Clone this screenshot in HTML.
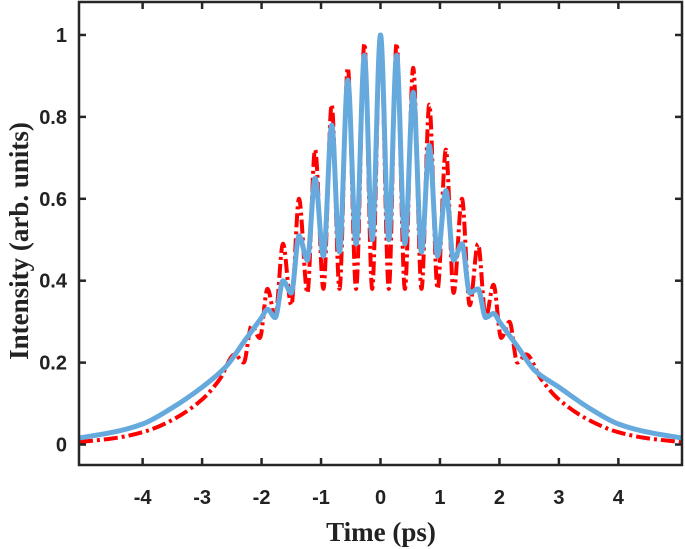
<!DOCTYPE html>
<html><head><meta charset="utf-8"><style>
body{margin:0;background:#fff;}
svg{display:block;}
.tk{font-family:"Liberation Sans",sans-serif;font-weight:bold;font-size:20px;fill:#222;}
.ttl{font-family:"Liberation Serif",serif;font-weight:bold;font-size:27px;fill:#222;}
</style></head><body>
<svg id="chart" width="685" height="549" viewBox="0 0 685 549" xmlns="http://www.w3.org/2000/svg">
<g id="marks"></g>
<g id="axes"></g>
<text class="ttl" x="381" y="541" text-anchor="middle">Time (ps)</text>
<text class="ttl" transform="translate(28,241) rotate(-90)" text-anchor="middle">Intensity (arb. units)</text>
</svg>
<script>
const xTicks=[-4,-3,-2,-1,0,1,2,3,4];
const yTicks=[0,0.2,0.4,0.6,0.8,1];
const yTickLabels=["0","0.2","0.4","0.6","0.8","1"];
// red (dash-dot) series: times and values at extrema / tail points
const redT=[-5.07,-4.5,-4,-3.5,-3,-2.7,-2.45,-2.3,-2.17,-2.03,-1.9,-1.77,-1.64,-1.5,-1.37,-1.23,-1.1,-0.96,-0.82,-0.69,-0.55,-0.41,-0.27,-0.14,0,0.14,0.27,0.41,0.55,0.69,0.82,0.96,1.1,1.23,1.37,1.5,1.64,1.77,1.9,2.03,2.17,2.3,2.45,2.7,3,3.5,4,4.5,5.07];
const redV=[0.006,0.015,0.03,0.06,0.11,0.16,0.22,0.2,0.29,0.26,0.38,0.31,0.49,0.34,0.6,0.37,0.72,0.38,0.83,0.38,0.92,0.38,0.98,0.38,1.0,0.38,0.98,0.38,0.92,0.38,0.83,0.38,0.72,0.37,0.6,0.34,0.49,0.31,0.39,0.26,0.3,0.2,0.22,0.16,0.11,0.06,0.03,0.015,0.006];
// blue (measured) series
const blueT=[-5.07,-4.5,-4,-3.5,-3,-2.6,-2.3,-2.0,-1.9,-1.77,-1.64,-1.5,-1.37,-1.23,-1.1,-0.96,-0.82,-0.69,-0.55,-0.41,-0.27,-0.14,0,0.14,0.27,0.41,0.55,0.69,0.82,0.96,1.1,1.23,1.37,1.5,1.64,1.77,1.9,2.0,2.3,2.6,3,3.5,4,4.5,5.07];
const blueV=[0.016,0.03,0.05,0.09,0.14,0.19,0.25,0.31,0.33,0.31,0.4,0.37,0.51,0.45,0.65,0.46,0.78,0.47,0.89,0.49,0.95,0.5,1.0,0.5,0.95,0.49,0.86,0.47,0.73,0.46,0.62,0.45,0.49,0.37,0.38,0.31,0.32,0.3,0.24,0.18,0.14,0.09,0.05,0.03,0.016];

const L=79,R=682,T=2,B=465;
const xMin=-5.07,xMax=5.07,yMin=-0.05,yMax=1.0805;
const sx=v=>L+(v-xMin)/(xMax-xMin)*(R-L);
const sy=v=>B-(v-yMin)/(yMax-yMin)*(B-T);
const NS="http://www.w3.org/2000/svg";
function pathFrom(ts,vs){
  const p=ts.map((t,i)=>[sx(t),sy(vs[i])]);
  const n=p.length;
  const m=p.map((q,i)=>{
    if(i===0) return (p[1][1]-q[1])/(p[1][0]-q[0]);
    if(i===n-1) return (q[1]-p[n-2][1])/(q[0]-p[n-2][0]);
    const a=(q[1]-p[i-1][1])/(q[0]-p[i-1][0]);
    const b=(p[i+1][1]-q[1])/(p[i+1][0]-q[0]);
    if(a*b<=0) return 0;
    return 2*a*b/(a+b);
  });
  let d="M"+p[0][0].toFixed(1)+","+p[0][1].toFixed(1);
  for(let i=0;i<n-1;i++){
    const p1=p[i],p2=p[i+1];
    const h=(p2[0]-p1[0])/3;
    d+="C"+(p1[0]+h).toFixed(1)+","+(p1[1]+m[i]*h).toFixed(1)+" "+(p2[0]-h).toFixed(1)+","+(p2[1]-m[i+1]*h).toFixed(1)+" "+p2[0].toFixed(1)+","+p2[1].toFixed(1);
  }
  return d;
}
const marks=document.getElementById('marks');
const red=document.createElementNS(NS,'path');


red.setAttribute('d',pathFrom(redT,redV));
red.setAttribute('fill','none');red.setAttribute('stroke','#ff0000');red.setAttribute('stroke-width','4');red.setAttribute('stroke-dasharray','14 4 3 4');
marks.appendChild(red);
const blue=document.createElementNS(NS,'path');


blue.setAttribute('d',pathFrom(blueT,blueV));
blue.setAttribute('fill','none');blue.setAttribute('stroke','#66aadd');blue.setAttribute('stroke-width','5');blue.setAttribute('stroke-linejoin','round');
marks.appendChild(blue);

const axes=document.getElementById('axes');
const frame=document.createElementNS(NS,'rect');


frame.setAttribute('x',L);frame.setAttribute('y',T);frame.setAttribute('width',R-L);frame.setAttribute('height',B-T);
frame.setAttribute('fill','none');frame.setAttribute('stroke','#262626');frame.setAttribute('stroke-width','2.5');
axes.appendChild(frame);
xTicks.forEach(v=>{
  const x=sx(v);
  [[B,B-7],[T,T+7]].forEach(([a,b])=>{
    const l=document.createElementNS(NS,'line');
    
    
    l.setAttribute('x1',x);l.setAttribute('x2',x);l.setAttribute('y1',a);l.setAttribute('y2',b);
    l.setAttribute('stroke','#262626');l.setAttribute('stroke-width','2.5');axes.appendChild(l);
  });
  const t=document.createElementNS(NS,'text');
  
  
  t.setAttribute('class','tk');t.setAttribute('x',x);t.setAttribute('y',504);t.setAttribute('text-anchor','middle');
  t.textContent=String(v);axes.appendChild(t);
});
yTicks.forEach((v,i)=>{
  const y=sy(v);
  [[L,L+7],[R,R-7]].forEach(([a,b])=>{
    const l=document.createElementNS(NS,'line');
    
    
    l.setAttribute('x1',a);l.setAttribute('x2',b);l.setAttribute('y1',y);l.setAttribute('y2',y);
    l.setAttribute('stroke','#262626');l.setAttribute('stroke-width','2.5');axes.appendChild(l);
  });
  const t=document.createElementNS(NS,'text');
  
  
  t.setAttribute('class','tk');t.setAttribute('x',67);t.setAttribute('y',y+7);t.setAttribute('text-anchor','end');
  t.textContent=yTickLabels[i];axes.appendChild(t);
});
</script>
</body></html>
